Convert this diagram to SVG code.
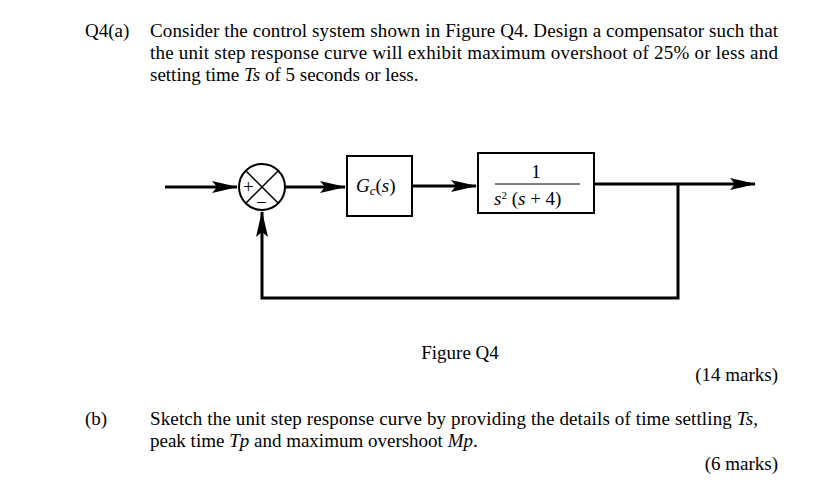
<svg xmlns="http://www.w3.org/2000/svg" width="827" height="492" viewBox="0 0 827 492">
<style>
text{font-family:"Liberation Serif",serif;font-size:19px;fill:#000}
.w{stroke:#000;stroke-width:3;fill:none}
.b{stroke:#000;stroke-width:2;fill:#fff}
</style>
<defs><marker id="a2" markerWidth="26" markerHeight="12" refX="25" refY="6" orient="auto" markerUnits="userSpaceOnUse"><path d="M0,0L26,6L0,12L5,6z"/></marker></defs>
<rect width="827" height="492" fill="#fff"/>
<text x="85" y="37">Q4(a)</text>
<text x="150" y="37" textLength="628" lengthAdjust="spacing">Consider the control system shown in Figure Q4. Design a compensator such that</text>
<text x="150" y="59" textLength="628" lengthAdjust="spacing">the unit step response curve will exhibit maximum overshoot of 25% or less and</text>
<text x="150" y="81">setting time <tspan font-style="italic">Ts</tspan> of 5 seconds or less.</text>
<g id="connectors">
<path class="w" d="M165,187H237" marker-end="url(#a2)"/>
<path class="w" d="M285,187H345" marker-end="url(#a2)"/>
<path class="w" d="M412,186H476" marker-end="url(#a2)"/>
<path class="w" d="M594,184H755" marker-end="url(#a2)"/>
<path class="w" d="M678,184V298H262V212" marker-end="url(#a2)"/>
</g>
<g id="sum"><circle class="b" cx="262" cy="187" r="23"/><path stroke="#000" stroke-width="1.5" d="M246,171L278,203M278,171L246,203"/>
<text x="243" y="193" font-size="16" font-family="Liberation Sans,sans-serif">+</text><text x="256" y="209" font-size="16" font-family="Liberation Sans,sans-serif">−</text></g>
<g id="gc"><rect class="b" x="347" y="156" width="65" height="60"/><text x="356" y="192" font-style="italic">G<tspan font-size="13" dy="3">c</tspan><tspan dy="-3" font-style="normal">(</tspan>s<tspan font-style="normal">)</tspan></text></g>
<g id="plant"><rect class="b" x="478" y="153" width="116" height="60"/><text x="536" y="178" text-anchor="middle" font-size="13">1</text><line x1="495" y1="184" x2="580" y2="184" stroke="#000" stroke-width="1"/><text x="494" y="205" font-size="16"><tspan font-style="italic">s</tspan><tspan font-size="11" dy="-6">2</tspan><tspan dy="6"> (</tspan><tspan font-style="italic">s</tspan> + 4)</text></g>
<text x="460" y="359" text-anchor="middle">Figure Q4</text>
<text x="778" y="381" text-anchor="end">(14 marks)</text>
<text x="85" y="425">(b)</text>
<text x="150" y="425" textLength="608" lengthAdjust="spacing">Sketch the unit step response curve by providing the details of time settling <tspan font-style="italic">Ts</tspan>,</text>
<text x="150" y="447">peak time <tspan font-style="italic">Tp</tspan> and maximum overshoot <tspan font-style="italic">Mp</tspan>.</text>
<text x="778" y="470" text-anchor="end">(6 marks)</text>
</svg>
